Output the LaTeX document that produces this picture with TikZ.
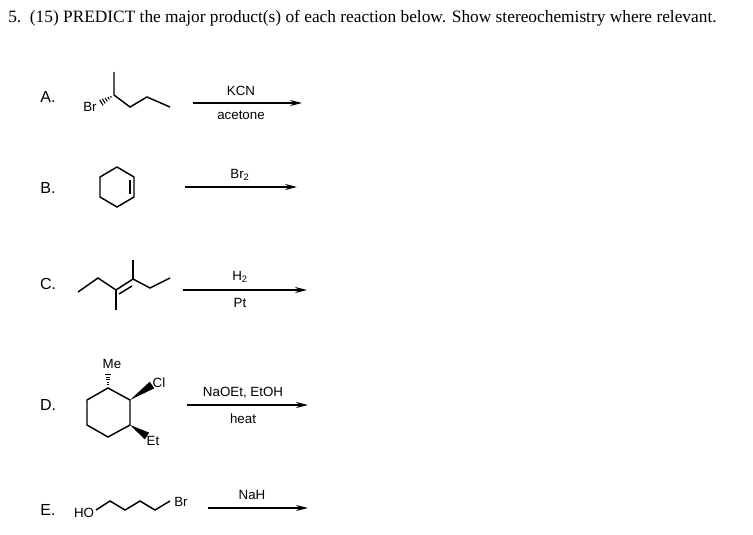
\documentclass[tikz,border=0pt]{standalone}
\usepackage{fontspec}
\setmainfont{Liberation Serif}
\newfontfamily\arialfont{Liberation Sans}
\usetikzlibrary{arrows.meta,calc}
\tikzset{
  bond/.style={line width=1.1pt},
  rxn/.style={line width=0.9pt, -{Stealth[length=9pt,width=4.5pt]}},
  lbl/.style={font=\arialfont\fontsize{10}{12}\selectfont, inner sep=0pt},
  letter/.style={font=\arialfont\fontsize{12}{14}\selectfont, inner sep=0pt}
}
\newcommand{\hashbond}[3]{% from, to, max half-width (pt)
  \foreach \t in {0.2,0.36,0.52,0.68,0.84,1.0}
    \draw[line width=0.8pt] ($(#1)!\t!(#2)!\t*#3 pt!90:(#2)$) -- ($(#1)!\t!(#2)!\t*#3 pt!-90:(#2)$);}
\newcommand{\wedgebond}[3]{%
  \fill (#1) -- ($(#2)!#3 pt!90:(#1)$) -- ($(#2)!#3 pt!-90:(#1)$) -- cycle;}
\begin{document}
\begin{tikzpicture}[x=0.75pt,y=-0.75pt]
\useasboundingbox (0,0) rectangle (753,535);
\node[anchor=west, inner sep=0pt, font=\fontsize{13}{15}\selectfont] (title) at (8,18)
  {5.\ \ (15) PREDICT the major product(s) of each reaction below. Show stereochemistry where relevant.};
% A
\node[letter] (la) at (48,97) {A.};
\coordinate (a1) at (114,95); \coordinate (a0) at (114,72);
\coordinate (a2) at (130,107); \coordinate (a3) at (147,97); \coordinate (a4) at (170,107);
\coordinate (abr) at (99,104);
\node[lbl] (br) at (90,107) {Br};
\draw[bond] (a0) -- (a1) -- (a2) -- (a3) -- (a4);
\hashbond{a1}{abr}{3}
\coordinate (ra1) at (193,103); \coordinate (ra2) at (302,103);
\draw[rxn] (ra1) -- (ra2);
\node[lbl] (kcn) at (241,91) {KCN};
\node[lbl] (acet) at (241,115) {acetone};
% B
\node[letter] (lb) at (48,188) {B.};
\coordinate (b0) at (117,167); \coordinate (b1) at (134,177); \coordinate (b2) at (134,197);
\coordinate (b3) at (117,207); \coordinate (b4) at (100,197); \coordinate (b5) at (100,177);
\draw[bond] (b0) -- (b1) -- (b2) -- (b3) -- (b4) -- (b5) -- cycle;
\draw[bond] (130,180) -- (130,194);
\coordinate (rb1) at (185,187); \coordinate (rb2) at (297,187);
\draw[rxn] (rb1) -- (rb2);
\node[lbl] (brtwo) at (240,175) {Br\textsubscript{2}};
% C
\node[letter] (lc) at (48,284) {C.};
\coordinate (c1) at (78,292); \coordinate (c2) at (98,278); \coordinate (c3) at (116,290);
\coordinate (c4) at (133,279); \coordinate (c5) at (150,288); \coordinate (c6) at (170,278);
\coordinate (c7) at (116,310); \coordinate (c8) at (133,260);
\draw[bond] (c1) -- (c2) -- (c3) -- (c4) -- (c5) -- (c6);
\draw[bond] (c3) -- (c7); \draw[bond] (c4) -- (c8);
\draw[bond] (119,294) -- (132,286);
\coordinate (rc1) at (183,290); \coordinate (rc2) at (307,290);
\draw[rxn] (rc1) -- (rc2);
\node[lbl] (htwo) at (240,277) {H\textsubscript{2}};
\node[lbl] (pt) at (240,303) {Pt};
% D
\node[letter] (ld) at (48,405) {D.};
\coordinate (d0) at (108,388); \coordinate (d1) at (130,400); \coordinate (d2) at (130,425);
\coordinate (d3) at (108,437); \coordinate (d4) at (87,425); \coordinate (d5) at (87,400);
\draw[bond] (d0) -- (d1) -- (d2) -- (d3) -- (d4) -- (d5) -- cycle;
\coordinate (dme) at (108,372); \coordinate (dcl) at (152,385); \coordinate (det) at (147,436);
\hashbond{d0}{dme}{2.5}
\wedgebond{d1}{dcl}{3}
\wedgebond{d2}{det}{3}
\node[lbl] (me) at (112,364) {Me};
\node[lbl] (cl) at (159,383) {Cl};
\node[lbl] (et) at (153,441) {Et};
\coordinate (rd1) at (187,405); \coordinate (rd2) at (308,405);
\draw[rxn] (rd1) -- (rd2);
\node[lbl] (naoet) at (243,393) {NaOEt, EtOH};
\node[lbl] (heat) at (243,419) {heat};
% E
\node[letter] (le) at (48,510) {E.};
\node[lbl] (ho) at (84,513) {HO};
\coordinate (e0) at (96,510); \coordinate (e1) at (110,501); \coordinate (e2) at (125,510);
\coordinate (e3) at (140,501); \coordinate (e4) at (155,510); \coordinate (e5) at (170,501);
\draw[bond] (e0) -- (e1) -- (e2) -- (e3) -- (e4) -- (e5);
\node[lbl] (bre) at (181,502) {Br};
\coordinate (re1) at (208,508); \coordinate (re2) at (308,508);
\draw[rxn] (re1) -- (re2);
\node[lbl] (nah) at (252,495) {NaH};
\end{tikzpicture}
\end{document}
